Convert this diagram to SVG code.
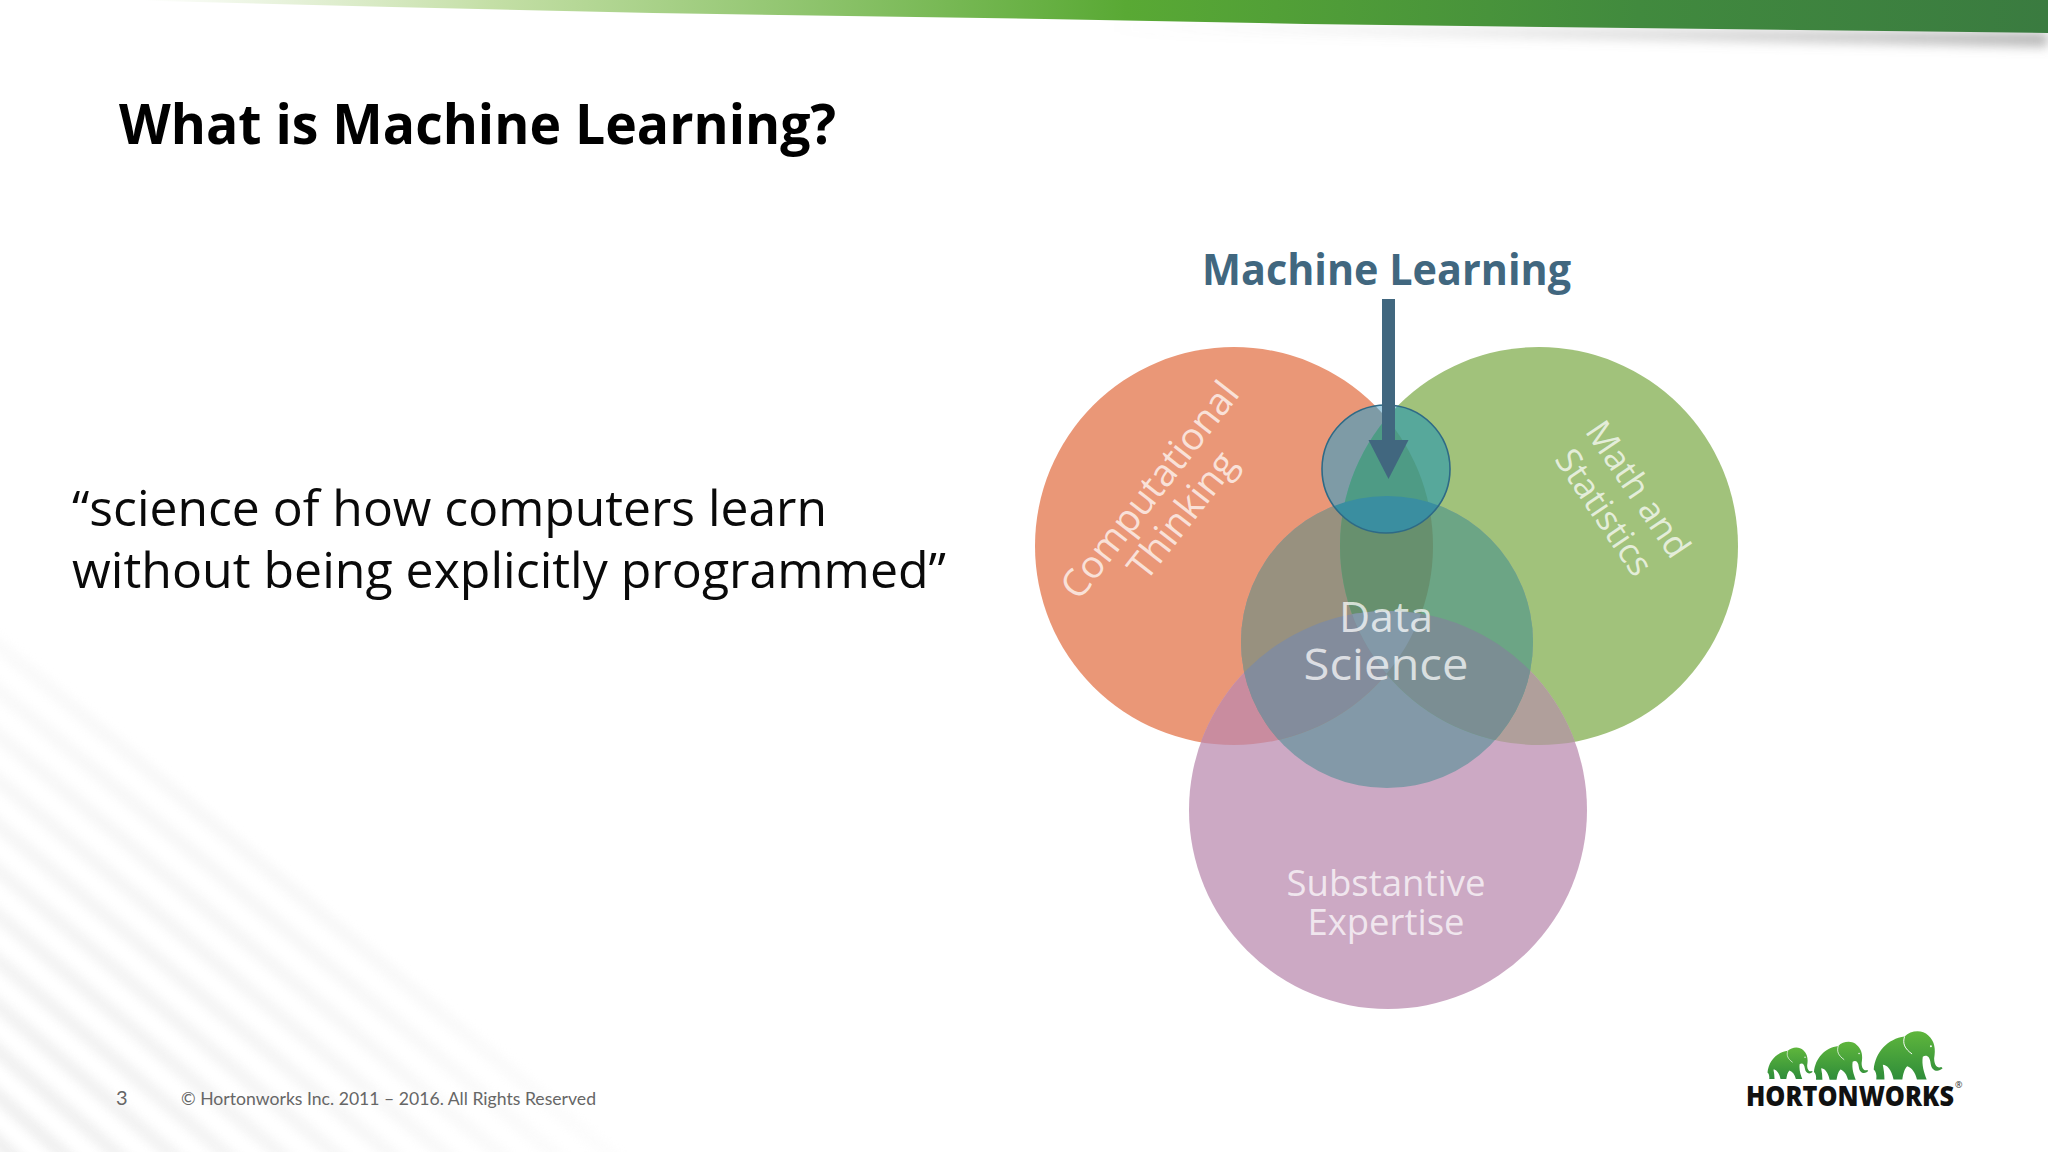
<svg xmlns="http://www.w3.org/2000/svg" xmlns:xlink="http://www.w3.org/1999/xlink" width="2048" height="1152" viewBox="0 0 2048 1152">
<style>
.ttl{font-family:"Open Sans","Liberation Sans",sans-serif;font-weight:700;font-size:55px;fill:#000}
.body{font-family:"Open Sans","Liberation Sans",sans-serif;font-size:50px;fill:#0a0a0a}
.ml{font-family:"Open Sans","Liberation Sans",sans-serif;font-weight:700;font-size:43px;fill:#41677f}
.w{font-family:"Open Sans","Liberation Sans",sans-serif;font-weight:400;fill:#fff;fill-opacity:.72;text-anchor:middle}
.foot{font-family:Lato,"Liberation Sans",sans-serif;font-size:18px;fill:#666}
.logo{font-family:"Open Sans","Liberation Sans",sans-serif;font-weight:800;font-size:29px;fill:#111}
.st{fill:none;stroke:#f0f0f0;stroke-width:15}
</style>
<defs>
<linearGradient id="bar" x1="0" x2="1" y1="0" y2="0"><stop offset=".07" stop-color="#fff"/><stop offset=".24" stop-color="#c4dfa6"/><stop offset=".55" stop-color="#59a934"/><stop offset=".8" stop-color="#418a3e"/><stop offset="1" stop-color="#3a7b40"/></linearGradient>
<linearGradient id="shade" x1="0" x2="1" y1="0" y2="0"><stop offset=".1" stop-color="#999" stop-opacity="0"/><stop offset="1" stop-color="#777" stop-opacity=".6"/></linearGradient>
<filter id="b8" x="-5%" y="-200%" width="110%" height="500%"><feGaussianBlur stdDeviation="6"/></filter>
<filter id="b3" filterUnits="userSpaceOnUse" x="0" y="500" width="1000" height="652"><feGaussianBlur stdDeviation="4"/></filter>
<radialGradient id="fade" gradientUnits="userSpaceOnUse" cx="0" cy="1152" r="720"><stop offset="0" stop-color="#fff"/><stop offset=".4" stop-color="#999"/><stop offset="1" stop-color="#000"/></radialGradient>
<mask id="fm" maskUnits="userSpaceOnUse" x="0" y="400" width="900" height="752"><rect x="0" y="400" width="900" height="752" fill="url(#fade)"/></mask>
<linearGradient id="eg" x1="0" x2="0" y1="0" y2="1"><stop offset="0" stop-color="#5fb63c"/><stop offset="1" stop-color="#2f8d3a"/></linearGradient>
<clipPath id="cO"><circle cx="1234" cy="546" r="199"/></clipPath>
<clipPath id="cG"><circle cx="1539" cy="546" r="199"/></clipPath>
<clipPath id="cP"><circle cx="1388" cy="810" r="199"/></clipPath>
<clipPath id="cD"><circle cx="1387" cy="642" r="146"/></clipPath>
<clipPath id="cM"><circle cx="1386" cy="469" r="64"/></clipPath>
<symbol id="ele" viewBox="510 55 225 160" overflow="visible">
<path fill="url(#eg)" d="M517 180C522 125 560 85 612 78C630 60 665 55 685 75C705 92 708 118 703 145C703 165 712 178 725 172L729 176C715 190 695 185 692 160C690 140 680 133 668 140C664 165 672 190 680 210L650 210C645 190 635 175 620 170C610 180 608 195 605 210L578 210C572 180 558 165 545 165C548 180 550 195 550 210L525 210C527 195 523 185 517 180Z"/>
<path fill="none" stroke="#fff" stroke-width="3" d="M612 78C605 100 612 115 635 132"/>
<circle cx="693" cy="108" r="3" fill="#fff"/>
</symbol>
<marker id="head" markerUnits="userSpaceOnUse" markerWidth="40" markerHeight="42" refX="0" refY="20" orient="auto"><path d="M0 0L39 20L0 40Z" fill="#41677f"/></marker>
</defs>
<rect width="2048" height="1152" fill="#fff"/>
<g id="background" mask="url(#fm)"><g filter="url(#b3)">
<path class="st" d="M-20 1125L60 1200"/><path class="st" d="M-20 1080L115 1200"/><path class="st" d="M-20 1035L170 1200"/><path class="st" d="M-20 990L225 1200"/><path class="st" d="M-20 945L280 1200"/><path class="st" d="M-20 900L335 1200"/><path class="st" d="M-20 855L390 1200"/><path class="st" d="M-20 810L445 1200"/><path class="st" d="M-20 765L500 1200"/><path class="st" d="M-20 720L555 1200"/><path class="st" d="M-20 675L610 1200"/><path class="st" d="M-20 630L665 1200"/>
</g></g>
<g id="top-bar">
<polygon points="1000,24 2048,33 2048,46 1000,28" fill="url(#shade)" filter="url(#b8)"/>
<polygon points="0,0 2048,0 2048,33 1306,24 1045,19 653,13 392,7 120,0" fill="url(#bar)"/>
</g>
<text id="title" class="ttl" x="119" y="144" textLength="717" lengthAdjust="spacingAndGlyphs">What is Machine Learning?</text>
<g id="quote">
<text class="body" x="72" y="526" textLength="755" lengthAdjust="spacingAndGlyphs">“science of how computers learn</text>
<text class="body" x="72" y="588" textLength="874" lengthAdjust="spacingAndGlyphs">without being explicitly programmed”</text>
</g>
<g id="venn-computational-thinking">
<circle cx="1234" cy="546" r="199" fill="#ea9777"/>
</g>
<g id="venn-math-statistics">
<circle cx="1539" cy="546" r="199" fill="#a1c27b"/>
<g clip-path="url(#cO)"><circle cx="1539" cy="546" r="199" fill="#6d9270"/></g>
</g>
<g id="venn-substantive-expertise">
<circle cx="1388" cy="810" r="199" fill="#cca9c4"/>
<g clip-path="url(#cO)"><circle cx="1388" cy="810" r="199" fill="#c98c9f"/></g>
<g clip-path="url(#cG)"><circle cx="1388" cy="810" r="199" fill="#b09f9b"/></g>
</g>
<g id="venn-data-science">
<circle cx="1387" cy="642" r="146" fill="#8399a8"/>
<g clip-path="url(#cD)">
<circle cx="1234" cy="546" r="199" fill="#98917f"/>
<circle cx="1539" cy="546" r="199" fill="#6ca585"/>
<g clip-path="url(#cO)"><circle cx="1539" cy="546" r="199" fill="#67906e"/></g>
<g clip-path="url(#cP)"><circle cx="1234" cy="546" r="199" fill="#838c9c"/><circle cx="1539" cy="546" r="199" fill="#7b8e93"/>
<g clip-path="url(#cO)"><circle cx="1539" cy="546" r="199" fill="#8399a8"/></g></g>
</g>
<text class="w" font-size="42" x="1386" y="632" textLength="94" lengthAdjust="spacingAndGlyphs">Data</text>
<text class="w" font-size="44" x="1386" y="680" textLength="165" lengthAdjust="spacingAndGlyphs">Science</text>
</g>
<g id="labels">
<g transform="translate(1160 498) rotate(-52)"><text class="w" font-size="38"><tspan x="0" y="0">Computational</tspan><tspan x="0" y="41">Thinking</tspan></text></g>
<g transform="translate(1628 496) rotate(56)"><text class="w" font-size="35"><tspan x="0" y="0">Math and</tspan><tspan x="0" y="41">Statistics</tspan></text></g>
<text class="w" font-size="36" x="1386" y="896" textLength="199" lengthAdjust="spacingAndGlyphs">Substantive</text>
<text class="w" font-size="36" x="1386" y="935" textLength="157" lengthAdjust="spacingAndGlyphs">Expertise</text>
</g>
<g id="machine-learning">
<circle cx="1386" cy="469" r="64" fill="#a5cde0"/>
<g clip-path="url(#cM)">
<circle cx="1234" cy="546" r="199" fill="#7e9ba6"/>
<circle cx="1539" cy="546" r="199" fill="#57a89b"/>
<g clip-path="url(#cO)"><circle cx="1539" cy="546" r="199" fill="#4e9b85"/></g>
<circle cx="1387" cy="642" r="146" fill="#3a8ea0"/>
</g>
<circle cx="1386" cy="469" r="64" fill="none" stroke="#2e6a86" stroke-width="1.6"/>
<text class="ml" x="1202" y="285" textLength="369" lengthAdjust="spacingAndGlyphs">Machine Learning</text>
</g>
<g id="connectors">
<line x1="1388.5" y1="299" x2="1388.5" y2="440" stroke="#41677f" stroke-width="13" marker-end="url(#head)"/>
</g>
<g id="footer">
<text class="foot" x="116" y="1105" style="font-size:20px">3</text>
<text class="foot" x="181" y="1105" textLength="415" lengthAdjust="spacingAndGlyphs">© Hortonworks Inc. 2011 – 2016. All Rights Reserved</text>
</g>
<g id="logo">
<use xlink:href="#ele" href="#ele" x="1766" y="1045" width="48" height="36"/>
<use xlink:href="#ele" href="#ele" x="1812" y="1040" width="58" height="41"/>
<use xlink:href="#ele" href="#ele" x="1871" y="1029" width="74" height="52"/>
<text class="logo" x="1746" y="1106" textLength="208" lengthAdjust="spacingAndGlyphs">HORTONWORKS</text>
<text font-family="Open Sans, sans-serif" font-size="9" fill="#333" x="1955" y="1088">®</text>
</g>
</svg>
